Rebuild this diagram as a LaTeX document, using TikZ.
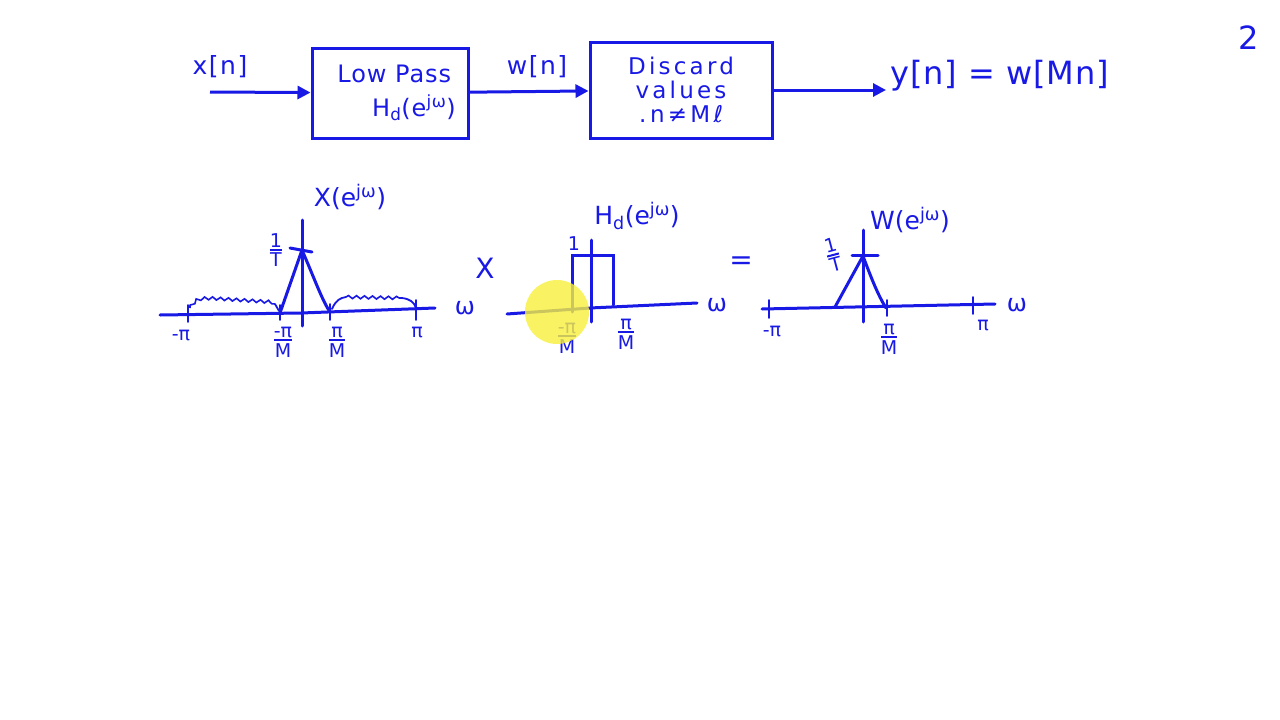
\documentclass[tikz,border=0pt]{standalone}
\usepackage{fontspec}
\setmainfont{DejaVu Sans}
\usetikzlibrary{arrows.meta,decorations.pathmorphing}
\definecolor{ink}{RGB}{25,25,230}
\definecolor{hilite}{RGB}{248,240,60}
\newcommand{\fr}[2]{$\hbox{#1}\above 2pt\hbox{#2}$}
\newcommand{\ejw}{(e\textsuperscript{jω})}
\begin{document}
\begin{tikzpicture}[x=1pt,y=-1pt,
  every node/.style={text=ink, inner sep=0pt},
  blk/.style={draw=ink, line width=3pt, align=center},
  arr/.style={draw=ink, line width=3pt, -{Triangle[length=13pt,width=13pt]}},
  ax/.style={draw=ink, line width=3pt, line cap=round},
  thin/.style={draw=ink, line width=1.8pt, line cap=round},
  wav/.style={draw=ink, line width=1.6pt, decorate, decoration={snake, amplitude=1.5pt, segment length=8pt}},
  lbl/.style={font=\fontsize{24}{26}\selectfont},
  ttl/.style={font=\fontsize{25}{28}\selectfont},
  sml/.style={font=\fontsize{19}{21}\selectfont, align=center}]
\useasboundingbox (0,0) rectangle (1280,720);
\fill[white] (0,0) rectangle (1280,720);

% ---------- block diagram ----------
\coordinate (xin) at (210,92);
\node[lbl, font=\fontsize{25}{28}\selectfont\addfontfeature{LetterSpace=6}] (xl) at (220,67) {x[n]};
\node[blk, minimum width=156pt, minimum height=90pt, font=\fontsize{24}{34}\selectfont\addfontfeature{LetterSpace=4}] (b1) at (390,93) {\ Low Pass\\ \qquad H\textsubscript{d}\ejw};
\node[blk, minimum width=182pt, minimum height=96pt, font=\fontsize{23}{24}\selectfont\addfontfeature{LetterSpace=14}] (b2) at (681,90) {Discard\\values\\.\,n≠Mℓ};
\node[lbl, font=\fontsize{25}{28}\selectfont\addfontfeature{LetterSpace=6}] (wl) at (537,67) {w[n]};
\coordinate (yin) at (886,90);
\node[font=\fontsize{32}{36}\selectfont\addfontfeature{LetterSpace=3}, anchor=west] (yo) at (890,76) {y[n] = w[Mn]};
\node[font=\fontsize{32}{36}\selectfont] (pg) at (1249,38) {2};
\draw[arr] (xin) -- (b1);
\draw[arr] (b1) -- (b2);
\draw[arr] (b2.east |- yin) -- (yin);

% ---------- plot 1: X ----------
\draw[ax] (160,315) -- (301,313) -- (435,308);
\draw[ax] (302,220) -- (302,326);
\draw[thin] (188,305) -- (188,322);
\draw[thin] (280,305) -- (280,320);
\draw[thin] (330,304) -- (330,320);
\draw[thin] (416,300) -- (416,320);
\draw[ax] (290,248) -- (312,252);
\draw[ax] (280,313) -- (302,250) .. controls (315,280) and (322,300) .. (330,312);
\draw[wav] (190,308) .. controls (195,300) and (200,300) .. (210,300) -- (275,304);
\draw[thin] (275,304) -- (279,311);
\draw[thin] (332,309) .. controls (336,300) and (340,298) .. (346,297);
\draw[wav] (346,297) -- (402,298);
\draw[thin] (402,298) .. controls (410,299) and (414,302) .. (416,308);
\node[ttl] (t1) at (350,197) {X\ejw};
\node[sml] (a1) at (276,250) {\fr{1}{T}};
\node[sml] (a2) at (181,335) {-π};
\node[sml] (a3) at (283,342) {\fr{-π}{M}};
\node[sml] (a4) at (337,342) {\fr{π}{M}};
\node[sml] (a5) at (417,332) {π};
\node[lbl] (w1) at (465,308) {ω};

\node[font=\fontsize{28}{30}\selectfont] (mul) at (485,268) {X};

% ---------- plot 2: H ----------
\draw[ax] (507,314) -- (590,308) -- (697,303);
\draw[ax] (591,240) -- (591,322);
\draw[ax] (572,312) -- (572,255) -- (613,255) -- (613,305);
\node[sml] (h1) at (574,244) {1};
\node[ttl] (t2) at (637,216) {H\textsubscript{d}\ejw};
\node[sml] (h2) at (567,338) {\fr{-π}{M}};
\node[sml] (h3) at (626,334) {\fr{π}{M}};
\node[lbl] (w2) at (717,305) {ω};
\fill[hilite, opacity=0.8] (557,312) circle (32);

\node[font=\fontsize{28}{30}\selectfont] (eq) at (741,263) {=};

% ---------- plot 3: W ----------
\draw[ax] (762,309) -- (995,304);
\draw[ax] (863,230) -- (863,322);
\draw[thin] (769,300) -- (769,318);
\draw[thin] (887,300) -- (887,316);
\draw[thin] (973,297) -- (973,314);
\draw[ax] (852,255) -- (878,255);
\draw[ax] (835,307) -- (863,256) .. controls (872,280) and (878,295) .. (886,308);
\node[sml, rotate=15] (c1) at (833,255) {\fr{1}{T}};
\node[ttl] (t3) at (910,220) {W\ejw};
\node[sml] (c2) at (772,331) {-π};
\node[sml] (c3) at (889,339) {\fr{π}{M}};
\node[sml] (c4) at (983,325) {π};
\node[lbl] (w3) at (1017,305) {ω};
\end{tikzpicture}
\end{document}
